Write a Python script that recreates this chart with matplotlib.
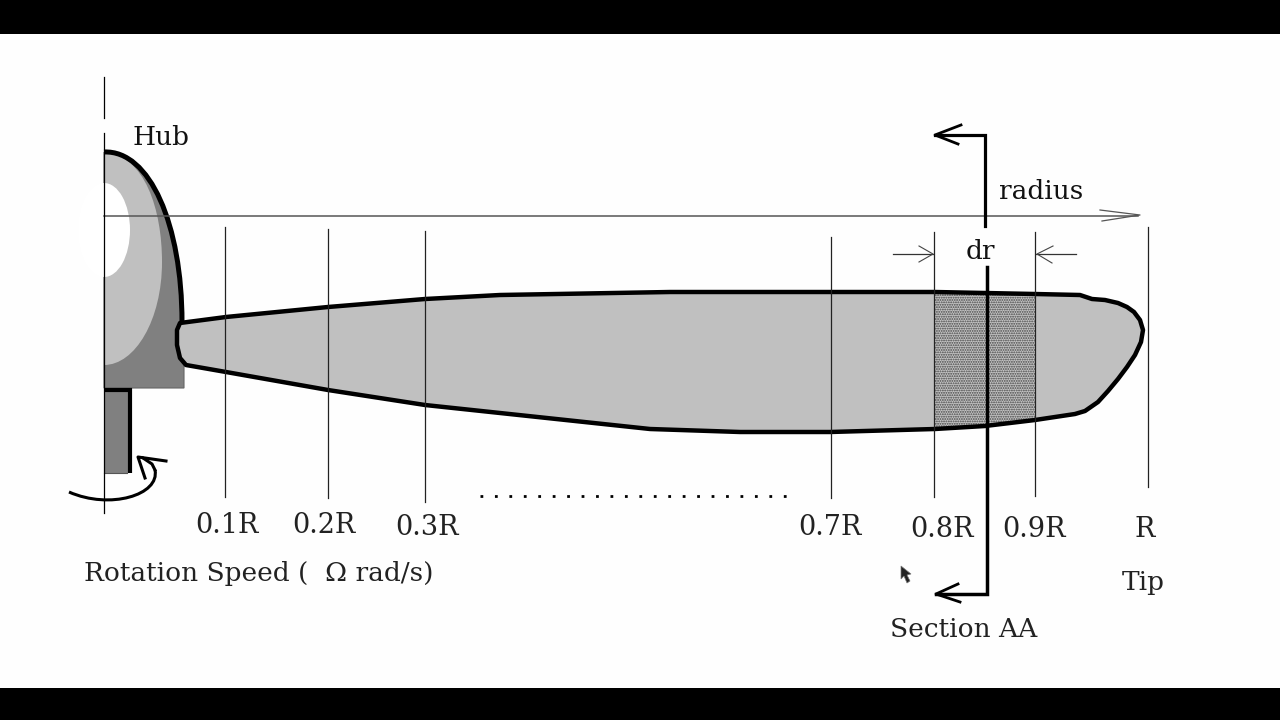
import matplotlib
matplotlib.use('Agg')
import matplotlib.pyplot as plt
from matplotlib.patches import Polygon, Ellipse, Rectangle, PathPatch
from matplotlib.path import Path

# all coordinates are image pixels, y going down
blade_x = [180, 226, 328, 425, 500, 670, 830, 935, 1035, 1080, 1092, 1105, 1118, 1127, 1134, 1140, 1143, 1141, 1135, 1127, 1118, 1108, 1098, 1085, 1075, 1035, 985, 935, 830, 740, 650, 425, 328, 226, 186, 180, 177, 177]
blade_y = [323, 317, 307, 299, 295, 292, 292, 292, 294, 295, 299, 300, 303, 307, 312, 320, 330, 342, 355, 367, 379, 391, 402, 411, 414, 420, 426, 429, 432, 432, 429, 405, 390, 372, 365, 358, 345, 330]

# cubic bezier control points of the hub shapes
hub_curve = [(104, 152), (150, 150), (182, 225), (182, 322)]
hub_light_top = [(104, 152), (145, 155), (162, 210), (162, 262)]
hub_light_bottom = [(162, 262), (162, 320), (135, 365), (104, 365)]

swirl_curve = [(69, 492), (110, 510), (160, 495), (155, 470)]

station_x = [225, 328, 425, 831, 934, 1035, 1148]
station_top = [227, 229, 231, 237, 232, 232, 227]
station_bottom = [497, 498, 502, 498, 497, 496, 487]

label_text = ['0.1R', '0.2R', '0.3R', '0.7R', '0.8R', '0.9R', 'R']
label_x = [195, 292, 395, 798, 910, 1002, 1135]
label_y = [533, 533, 535, 535, 537, 537, 537]

plt.rcParams['font.family'] = ['DejaVu Serif']
plt.rcParams['hatch.linewidth'] = 0.9
TEXT_SIZE = 19
LABEL_SIZE = 19.5


def bezier(points, *more):
    verts = list(points)
    codes = [Path.MOVETO] + [Path.CURVE4] * 3
    for seg in more:
        verts += list(seg[1:])
        codes += [Path.CURVE4] * 3
    return verts, codes


fig = plt.figure(figsize=(12.8, 7.2), dpi=100, facecolor='#fefefe')
ax = fig.add_axes([0, 0, 1, 1])
ax.set_xlim(0, 1280)
ax.set_ylim(720, 0)
ax.axis('off')

# black bars of the video frame
ax.add_patch(Rectangle((0, 0), 1280, 34, color='black', lw=0))
ax.add_patch(Rectangle((0, 688), 1280, 32, color='black', lw=0))

# hub
verts, codes = bezier(hub_curve)
body = Path(verts + [(184, 322), (184, 388), (104, 388), (104, 152)],
            codes + [Path.LINETO] * 4)
ax.add_patch(PathPatch(body, fc='#808080', ec='#666666', lw=0.8))
verts, codes = bezier(hub_light_top, hub_light_bottom)
ax.add_patch(PathPatch(Path(verts + [(104, 152)], codes + [Path.LINETO]), fc='#c0c0c0', ec='none'))
ax.add_patch(Ellipse((104, 230), 52, 94, fc='white', ec='none'))
verts, codes = bezier(hub_curve)
ax.add_patch(PathPatch(Path(verts, codes), fc='none', ec='black', lw=3.6, capstyle='butt'))

# shaft
ax.add_patch(Rectangle((104, 389), 24, 84, fc='#808080', ec='none'))
ax.plot([104, 130, 130], [390, 390, 473], color='black', lw=3.0,
        solid_joinstyle='miter', solid_capstyle='butt')
ax.plot([104, 127], [473, 473], color='#555555', lw=0.8)

# blade and the dr strip
outline = list(zip(blade_x, blade_y))
ax.add_patch(Polygon(outline, closed=True, fc='#c0c0c0', ec='none'))
strip = [(934, 292), (1035, 294), (1035, 420), (985, 426), (934, 429)]
ax.add_patch(Polygon(strip, closed=True, fc='#c4c4c4', ec='#444444', lw=0, hatch='.......'))
ax.add_patch(Polygon(outline, closed=True, fc='none', ec='black', lw=3.2, joinstyle='round'))

# radius axis with open head
ax.plot([104, 1138], [216, 216], color='#555555', lw=1.1)
ax.plot([1100, 1140, 1102], [210, 215, 221], color='#555555', lw=0.9)

# hub centre line
ax.plot([104, 104], [77, 118], color='black', lw=0.9)
ax.plot([104, 104], [133, 513], color='black', lw=0.9)

# radial stations
for x, y0, y1 in zip(station_x, station_top, station_bottom):
    ax.plot([x, x], [y0, y1], color='#222222', lw=0.9)

ax.plot([480, 788], [496, 496], color='black', lw=2.0, ls=(0, (1, 4.2)))

# section AA
ax.plot([935, 985, 985], [135, 135, 226], color='black', lw=2.3, solid_joinstyle='miter')
ax.plot([987, 987, 936], [267, 594, 594], color='black', lw=2.5, solid_joinstyle='miter')
ax.plot([961, 935, 958], [125, 135, 144], color='black', lw=2.0)
ax.plot([958, 936, 960], [584, 594, 602], color='black', lw=2.0)

# dr arrows
ax.plot([893, 933], [254, 254], color='#333333', lw=0.9)
ax.plot([919, 933, 919], [246, 254, 262], color='#444444', lw=0.8)
ax.plot([1036, 1076], [254, 254], color='#333333', lw=0.9)
ax.plot([1053, 1037, 1052], [246, 254, 263], color='#444444', lw=0.8)

# rotation arrow
verts, codes = bezier(swirl_curve)
ax.add_patch(PathPatch(Path(verts, codes), fc='none', ec='black', lw=2.2))
ax.plot([155, 152, 143], [470, 464, 458], color='black', lw=2.2)
ax.plot([166, 138, 145], [461, 457, 478], color='black', lw=2.2)

# mouse pointer from the screen capture
ax.add_patch(Polygon([(901, 566), (901, 579), (904, 576), (907, 583), (910, 581), (907, 575), (911, 574)],
                     closed=True, fc='#222222', ec='#777777', lw=0.5))

for s, x, y in zip(label_text, label_x, label_y):
    ax.text(x, y, s, fontsize=LABEL_SIZE, color='#222222', ha='left', va='baseline')

ax.text(132, 145, 'Hub', fontsize=TEXT_SIZE, color='#111111', va='baseline')
ax.text(999, 199, 'radius', fontsize=TEXT_SIZE, color='#111111', va='baseline')
ax.text(966, 259, 'dr', fontsize=TEXT_SIZE, color='#111111', va='baseline')
ax.text(1122, 590, 'Tip', fontsize=TEXT_SIZE, color='#222222', va='baseline')
ax.text(890, 637, 'Section AA', fontsize=TEXT_SIZE, color='#222222', va='baseline')
ax.text(84, 581, 'Rotation Speed (  Ω rad/s)', fontsize=TEXT_SIZE, color='#222222', va='baseline')

fig.savefig('out.png', dpi=100, facecolor=fig.get_facecolor())
